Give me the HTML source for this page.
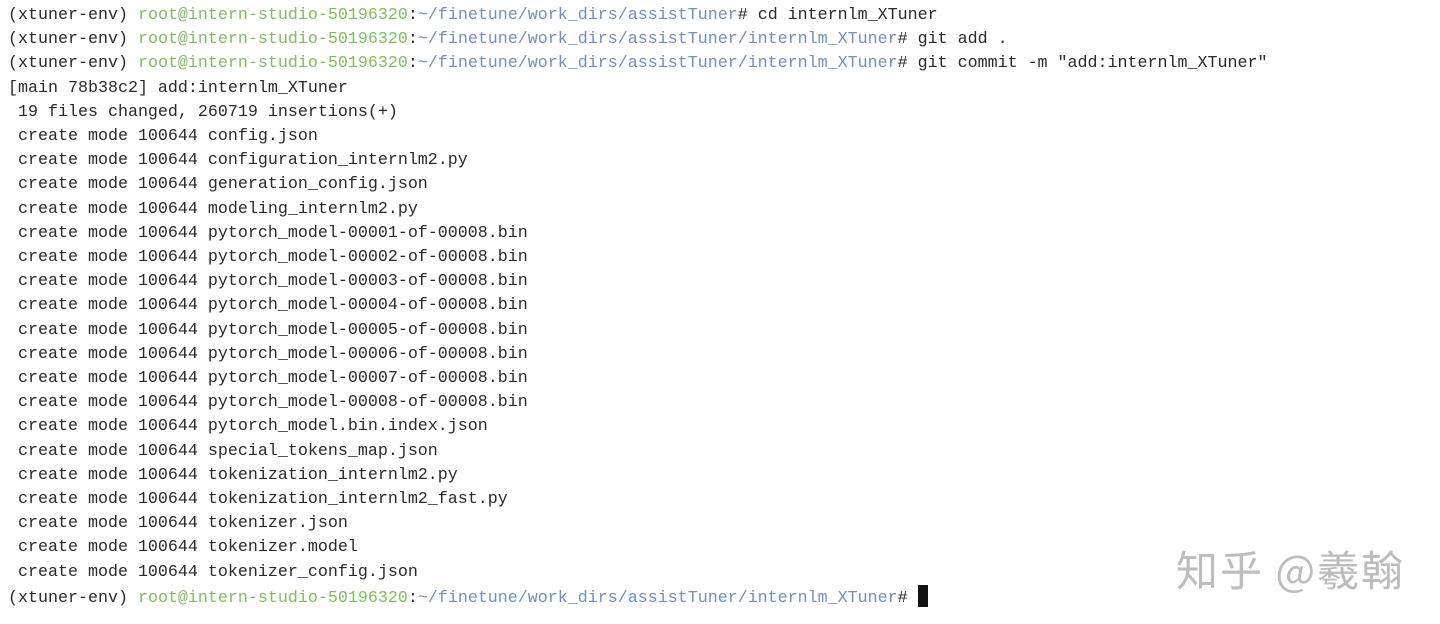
<!DOCTYPE html>
<html><head><meta charset="utf-8">
<style>
html,body{margin:0;padding:0;background:#fff;width:1440px;height:624px;overflow:hidden;position:relative}
pre{position:absolute;left:8px;top:4px;margin:0;font-family:"Liberation Mono","Noto Sans CJK SC",monospace;font-size:16.67px;line-height:24.2px;color:#2a2a2a;white-space:pre}
.g{color:#7dbf5e}.b{color:#7090c0}
.cur{display:inline-block;width:10px;height:22px;background:#111;vertical-align:-5px}
.wm{position:absolute;left:1176px;top:538px;font-family:"Noto Sans CJK SC",sans-serif;font-size:42px;color:#bdbdbd;letter-spacing:2px;white-space:nowrap}
</style></head><body>
<pre>(xtuner-env) <span class="g">root@intern-studio-50196320</span>:<span class="b">~/finetune/work_dirs/assistTuner</span># cd internlm_XTuner
(xtuner-env) <span class="g">root@intern-studio-50196320</span>:<span class="b">~/finetune/work_dirs/assistTuner/internlm_XTuner</span># git add .
(xtuner-env) <span class="g">root@intern-studio-50196320</span>:<span class="b">~/finetune/work_dirs/assistTuner/internlm_XTuner</span># git commit -m "add:internlm_XTuner"
[main 78b38c2] add:internlm_XTuner
 19 files changed, 260719 insertions(+)
 create mode 100644 config.json
 create mode 100644 configuration_internlm2.py
 create mode 100644 generation_config.json
 create mode 100644 modeling_internlm2.py
 create mode 100644 pytorch_model-00001-of-00008.bin
 create mode 100644 pytorch_model-00002-of-00008.bin
 create mode 100644 pytorch_model-00003-of-00008.bin
 create mode 100644 pytorch_model-00004-of-00008.bin
 create mode 100644 pytorch_model-00005-of-00008.bin
 create mode 100644 pytorch_model-00006-of-00008.bin
 create mode 100644 pytorch_model-00007-of-00008.bin
 create mode 100644 pytorch_model-00008-of-00008.bin
 create mode 100644 pytorch_model.bin.index.json
 create mode 100644 special_tokens_map.json
 create mode 100644 tokenization_internlm2.py
 create mode 100644 tokenization_internlm2_fast.py
 create mode 100644 tokenizer.json
 create mode 100644 tokenizer.model
 create mode 100644 tokenizer_config.json
(xtuner-env) <span class="g">root@intern-studio-50196320</span>:<span class="b">~/finetune/work_dirs/assistTuner/internlm_XTuner</span># <span class="cur"></span></pre>
<div class="wm">知乎 @羲翰</div>
</body></html>
